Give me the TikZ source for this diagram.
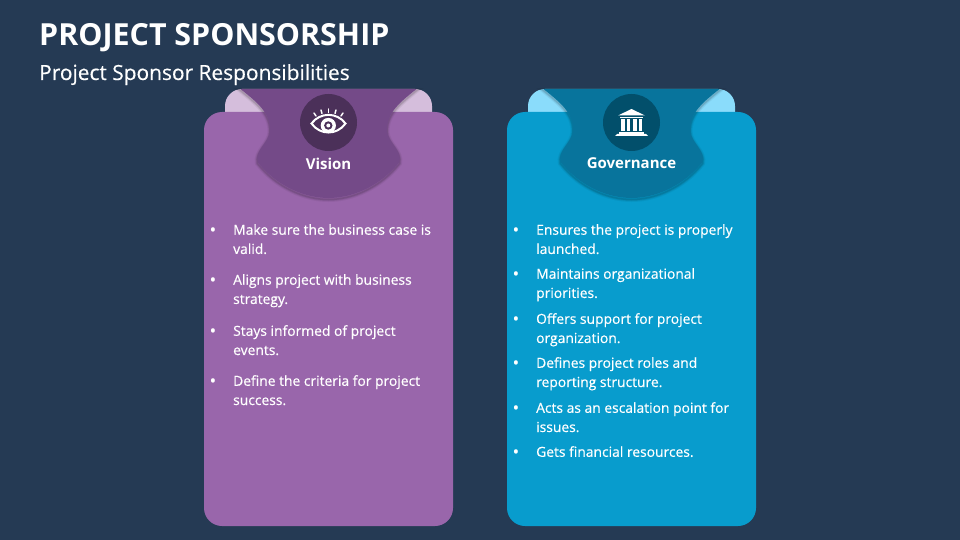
\documentclass[tikz,border=0pt]{standalone}
\usepackage{fontspec}
\usepackage{tikz}
\setmainfont{Open Sans}
\newfontfamily\semifont[FakeBold=0.45]{Open Sans}

\definecolor{slatebg}{HTML}{253A54}
\definecolor{purplecard}{HTML}{9966AB}
\definecolor{purpleband}{HTML}{744A88}
\definecolor{purpledisc}{HTML}{4B3059}
\definecolor{purpletab}{HTML}{D5BEDC}
\definecolor{bluecard}{HTML}{089CCD}
\definecolor{blueband}{HTML}{08749C}
\definecolor{bluedisc}{HTML}{024F6B}
\definecolor{bluetab}{HTML}{8ADCFB}

% band hanging over a card, x measured from its middle
\newcommand{\bandpath}{(-88,89) .. controls (-72,102) and (-58.5,112) .. (-58.5,130)
  .. controls (-58.5,142) and (-74,150) .. (-71,162)
  .. controls (-52,186) and (-24,198) .. (0,198)
  .. controls (24,198) and (52,186) .. (71,162)
  .. controls (74,150) and (58.5,142) .. (58.5,130)
  .. controls (58.5,112) and (72,102) .. (88,89) -- cycle}

\newcommand{\sponsorcard}[5]{
  \fill[#5, rounded corners=17] (#1-103.5,89) rectangle (#1+103.5,135);
  \fill[#2, rounded corners=18] (#1-124.5,112) rectangle (#1+124.5,526);
  \begin{scope}[shift={(#1,0)}]
    \clip (-120,89) rectangle (120,230);
    \draw[black, opacity=.05, line width=5pt, shift={(0,1.5)}] \bandpath;
    \draw[black, opacity=.08, line width=3pt, shift={(0,1.5)}] \bandpath;
    \draw[black, opacity=.10, line width=1.5pt, shift={(0,1.5)}] \bandpath;
    \fill[#3] \bandpath;
    \fill[#4] (0,122.5) circle (28.5);
  \end{scope}
}

\tikzset{
  cardhead/.style={text=white, inner sep=0pt, font=\fontsize{15}{18}\selectfont\bfseries},
  cardline/.style={text=white, inner sep=0pt, anchor=north west, align=left,
    font=\fontsize{13.85}{19.2}\selectfont\semifont},
  cardbullet/.style={text=white, inner sep=0pt, font=\fontsize{18}{18}\selectfont},
  iconline/.style={white, line width=1.5pt, line cap=round},
}

\begin{document}
\begin{tikzpicture}[x=1pt, y=-1pt]
  \useasboundingbox (0,0) rectangle (960,540);
  \fill[slatebg] (0,0) rectangle (960,540);

  \node[text=white, inner sep=0pt, anchor=base west, font=\fontsize{30.4}{36}\selectfont\bfseries] (title) at (39,45.5) {PROJECT SPONSORSHIP};
  \node[text=white, inner sep=0pt, anchor=base west, font=\fontsize{20.9}{24}\selectfont\semifont] (subtitle) at (39,80) {Project Sponsor Responsibilities};

  \sponsorcard{328.5}{purplecard}{purpleband}{purpledisc}{purpletab}
  \sponsorcard{631.5}{bluecard}{blueband}{bluedisc}{bluetab}

  % eye
  \draw[white, line width=2pt] (311.5,123.5) .. controls (320,112) and (337,112) .. (345.5,123.5)
    .. controls (337,135.5) and (320,135.5) .. (311.5,123.5) -- cycle;
  \fill[white] (328.3,125.5) circle (7.6);
  \fill[purpledisc] (328.3,125.5) circle (4.2);
  \fill[white] (328.3,125.5) circle (2);
  \draw[iconline] (316,116) -- (314,113);
  \draw[iconline] (322,113.5) -- (321,110);
  \draw[iconline] (328.5,112.5) -- (328.5,109);
  \draw[iconline] (335,113.5) -- (336,110);
  \draw[iconline] (341,116) -- (343,113);

  % temple
  \fill[white] (631.5,109) -- (645,115.5) -- (618,115.5) -- cycle;
  \fill[white] (620,117) rectangle (643,118.5);
  \foreach \colx in {621,626.5,633,638.5} {
    \fill[white] (\colx,119.5) rectangle (\colx+3.5,131);
  }
  \fill[white] (619,132) rectangle (644,134);
  \fill[white] (617,134) -- (646,134) -- (648,136) -- (615,136) -- cycle;

  \node[cardhead] (vision) at (328.5,163.5) {Vision};
  \node[cardhead] (governance) at (631.5,163.5) {Governance};

  \node[cardbullet] (vb1) at (213,232) {•};
  \node[cardline] (v1) at (233,224) {Make sure the business case is\\valid.};
  \node[cardbullet] (vb2) at (213,282) {•};
  \node[cardline] (v2) at (233,274) {Aligns project with business\\strategy.};
  \node[cardbullet] (vb3) at (213,333) {•};
  \node[cardline] (v3) at (233,325) {Stays informed of project\\events.};
  \node[cardbullet] (vb4) at (213,383) {•};
  \node[cardline] (v4) at (233,375) {Define the criteria for project\\success.};

  \node[cardbullet] (gb1) at (516,232) {•};
  \node[cardline] (g1) at (536,224) {Ensures the project is properly\\launched.};
  \node[cardbullet] (gb2) at (516,276) {•};
  \node[cardline] (g2) at (536,268) {Maintains organizational\\priorities.};
  \node[cardbullet] (gb3) at (516,321) {•};
  \node[cardline] (g3) at (536,313) {Offers support for project\\organization.};
  \node[cardbullet] (gb4) at (516,365) {•};
  \node[cardline] (g4) at (536,357) {Defines project roles and\\reporting structure.};
  \node[cardbullet] (gb5) at (516,410) {•};
  \node[cardline] (g5) at (536,402) {Acts as an escalation point for\\issues.};
  \node[cardbullet] (gb6) at (516,454) {•};
  \node[cardline] (g6) at (536,446) {Gets financial resources.};
\end{tikzpicture}
\end{document}
